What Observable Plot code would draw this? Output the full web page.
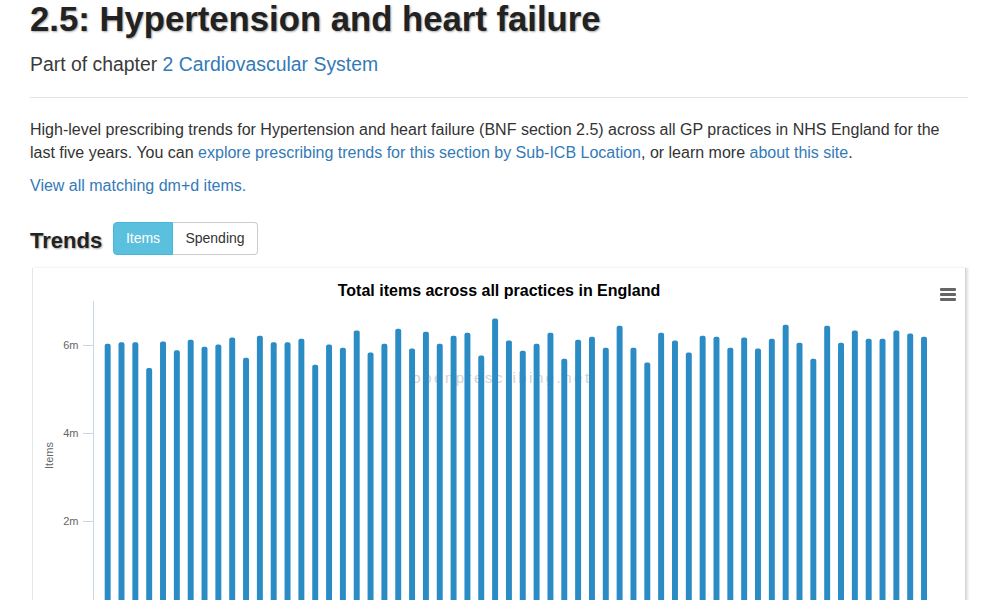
<!DOCTYPE html>
<html><head><meta charset="utf-8">
<script src="https://cdn.jsdelivr.net/npm/d3@7"></script>
<script src="https://cdn.jsdelivr.net/npm/@observablehq/plot@0.6"></script>
<style>
html,body{margin:0;padding:0;background:#fff;width:990px;height:600px;overflow:hidden;}
body{font-family:"Liberation Sans",Arial,Helvetica,sans-serif;color:#333;position:relative;}
.abs{position:absolute;white-space:nowrap;}
a{color:#337ab7;text-decoration:none;}
#title{left:30px;top:-1px;font-size:34.7px;line-height:40px;font-weight:bold;color:#222;text-shadow:1px 1px 2px rgba(0,0,0,0.35);}
#sub{left:30px;top:52px;font-size:19.4px;line-height:24px;color:#3a3a3a;}
#hr{left:30px;top:97px;width:938px;height:1px;background:#e5e5e5;}
#para{left:30px;top:118px;font-size:16px;line-height:23px;}
#dmd{left:30px;top:174px;font-size:16px;line-height:23px;}
#trends{left:30px;top:228px;font-size:22px;line-height:26px;font-weight:bold;color:#222;text-shadow:1px 1px 2px rgba(0,0,0,0.35);}
#btns{left:113px;top:222px;height:33px;display:flex;font-size:14px;}
.btn{box-sizing:border-box;height:33px;line-height:31px;text-align:center;border:1px solid #ccc;}
#b1{width:60px;background:#5bc0de;border-color:#46b8da;color:#fff;border-radius:4px 0 0 4px;}
#b2{width:85px;background:#fff;color:#333;border-left:none;border-radius:0 4px 4px 0;}
#box{left:32px;top:268px;width:932px;height:400px;border-left:1px solid #e6e6e6;border-right:1px solid #d4d4d4;box-shadow:2px 0 2px rgba(0,0,0,0.12);}
#ctitle{left:33px;width:932px;top:281px;text-align:center;font-size:16px;line-height:20px;font-weight:bold;color:#000;}
#menu{left:940px;top:288px;width:16px;height:13px;}
#menu div{height:2.5px;background:#666;margin-bottom:2.5px;border-radius:1px;}
#wm{left:402px;width:200px;top:368px;text-align:center;font-size:15px;line-height:20px;letter-spacing:2.5px;color:#d2d2d2;}
#chart{left:0;top:268px;}
</style>
</head>
<body>
<div class="abs" id="title">2.5: Hypertension and heart failure</div>
<div class="abs" id="sub">Part of chapter <a href="#">2 Cardiovascular System</a></div>
<div class="abs" id="hr"></div>
<div class="abs" id="para">High-level prescribing trends for Hypertension and heart failure (BNF section 2.5) across all GP practices in NHS England for the<br>last five years. You can <a href="#">explore prescribing trends for this section by Sub-ICB Location</a>, or learn more <a href="#">about this site</a>.</div>
<div class="abs" id="dmd"><a href="#">View all matching dm+d items.</a></div>
<div class="abs" id="trends">Trends</div>
<div class="abs" id="btns"><div class="btn" id="b1">Items</div><div class="btn" id="b2">Spending</div></div>
<div class="abs" id="box"></div>
<div class="abs" id="wm"></div>
<div class="abs" id="chart"></div>
<div class="abs" id="ctitle">Total items across all practices in England</div>
<div class="abs" id="menu"><div></div><div></div><div></div></div>
<script>
const months = [
  "Nov 2018","Dec 2018","Jan 2019","Feb 2019","Mar 2019","Apr 2019","May 2019","Jun 2019","Jul 2019","Aug 2019","Sep 2019","Oct 2019",
  "Nov 2019","Dec 2019","Jan 2020","Feb 2020","Mar 2020","Apr 2020","May 2020","Jun 2020","Jul 2020","Aug 2020","Sep 2020","Oct 2020",
  "Nov 2020","Dec 2020","Jan 2021","Feb 2021","Mar 2021","Apr 2021","May 2021","Jun 2021","Jul 2021","Aug 2021","Sep 2021","Oct 2021",
  "Nov 2021","Dec 2021","Jan 2022","Feb 2022","Mar 2022","Apr 2022","May 2022","Jun 2022","Jul 2022","Aug 2022","Sep 2022","Oct 2022",
  "Nov 2022","Dec 2022","Jan 2023","Feb 2023","Mar 2023","Apr 2023","May 2023","Jun 2023","Jul 2023","Aug 2023","Sep 2023","Oct 2023"
];
const items = [
  6030000,6060000,6060000,5480000,6080000,5880000,6120000,5960000,6010000,6170000,5710000,6210000,
  6060000,6060000,6140000,5550000,6010000,5940000,6330000,5830000,6030000,6370000,5920000,6300000,
  6030000,6210000,6280000,5760000,6600000,6100000,5870000,6030000,6280000,5690000,6120000,6190000,
  5940000,6440000,5940000,5600000,6280000,6100000,5830000,6210000,6190000,5940000,6170000,5920000,
  6140000,6460000,6050000,5690000,6440000,6050000,6330000,6140000,6140000,6330000,6260000,6190000
];
const yTicks = [2000000, 4000000, 6000000];
const yLabel = "Items";
const watermark = "openprescribing.net";

document.getElementById("wm").textContent = watermark;

const data = months.map((m, i) => ({month: m, items: items[i]}));

const chart = Plot.plot({
  width: 990,
  height: 401,
  marginLeft: 93,
  marginRight: 51.3,
  marginTop: 33,
  marginBottom: 60,
  style: {background: "transparent", fontFamily: "'Liberation Sans', Arial, sans-serif", fontSize: "11px", color: "#666", overflow: "visible"},
  x: {domain: months, paddingInner: 0.57, paddingOuter: 0.845, align: 0.5, axis: null},
  y: {domain: [0, 7000000]},
  marks: [
    Plot.barY(data, {x: "month", y: "items", fill: "#2a8bc5", rx: 2}),
    Plot.frame({anchor: "left", stroke: "#ccd6eb"}),
    Plot.axisY({ticks: yTicks, tickSize: 10, tickPadding: 5, stroke: "#ccd6eb", fill: "#666",
      tickFormat: d => (d / 1000000) + "m",
      label: yLabel, labelAnchor: "center", labelArrow: "none", labelOffset: 48, fontSize: 11})
  ]
});
document.getElementById("chart").appendChild(chart);
</script>
</body></html>
